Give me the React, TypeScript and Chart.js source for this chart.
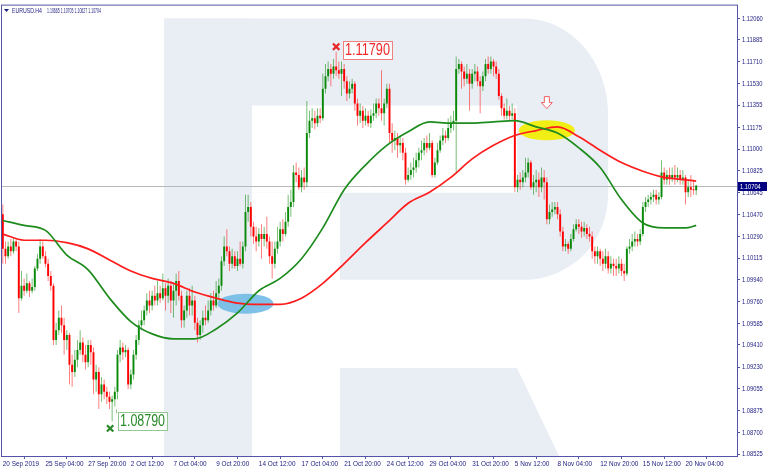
import React, { useEffect, useRef } from "react";
import { Chart, registerables } from "chart.js";

Chart.register(...registerables);

// ---------------- data ----------------
const symbolName = "EURUSD.H4";
const lastBarOhlc = ["1.10665", "1.10705", "1.10627", "1.10704"];

const timeLabels = [
  "20 Sep 2019", "25 Sep 04:00", "27 Sep 20:00", "2 Oct 12:00", "7 Oct 04:00", "9 Oct 20:00",
  "14 Oct 12:00", "17 Oct 04:00", "21 Oct 20:00", "24 Oct 12:00", "29 Oct 04:00", "31 Oct 20:00",
  "5 Nov 12:00", "8 Nov 04:00", "12 Nov 20:00", "15 Nov 12:00", "20 Nov 04:00",
];
const barsPerTimeLabel = 16;

const priceTickLabels = [
  "1.12060", "1.11885", "1.11710", "1.11530", "1.11355", "1.11175", "1.11000", "1.10825",
  "1.10645", "1.10470", "1.10290", "1.10115", "1.09940", "1.09760", "1.09585", "1.09410",
  "1.09230", "1.09055", "1.08875", "1.08700", "1.08525",
];

const openPrices = [
  1.1047,1.1019,1.1013,1.1021,1.1017,1.1025,1.1021,1.0979,1.0989,1.0985,
  1.0991,1.0985,1.0988,1.1003,1.1011,1.1021,1.1013,1.1007,1.0997,1.0989,
  1.0945,1.0953,1.0963,1.0957,1.0945,1.0949,1.0925,1.0919,1.0929,1.0937,
  1.0943,1.0933,1.0927,1.0941,1.0935,1.0913,1.0919,1.0901,1.0909,1.0903,
  1.0899,1.0895,1.0897,1.0903,1.0933,1.0939,1.0935,1.0937,1.0909,1.0917,
  1.0933,1.0945,1.0957,1.0961,1.0969,1.0977,1.0973,1.0981,1.0977,1.0983,
  1.0979,1.0987,1.0981,1.0989,1.0977,1.0985,1.0993,1.0981,1.0961,1.0969,
  1.0981,1.0973,1.0977,1.0959,1.0949,1.0957,1.0963,1.0961,1.0969,1.0977,
  1.0973,1.0983,1.0989,1.1009,1.1021,1.1017,1.1007,1.1013,1.1005,1.1011,
  1.1007,1.1021,1.1049,1.1053,1.1037,1.1029,1.1025,1.1031,1.1027,1.1031,
  1.1025,1.1013,1.1007,1.1019,1.1025,1.1035,1.1031,1.1041,1.1053,1.1057,
  1.1081,1.1079,1.1069,1.1077,1.1073,1.1113,1.1123,1.1125,1.1121,1.1127,
  1.1125,1.1149,1.1159,1.1165,1.1161,1.1167,1.1164,1.1161,1.1165,1.1155,
  1.1145,1.1149,1.1153,1.1137,1.1127,1.1131,1.1123,1.1127,1.1121,1.1127,
  1.1129,1.1137,1.1133,1.1129,1.1137,1.1149,1.1113,1.1107,1.1109,1.1103,
  1.1105,1.1097,1.1075,1.1079,1.1083,1.1085,1.1091,1.1097,1.1099,1.1105,
  1.1101,1.1105,1.1079,1.1089,1.1099,1.1107,1.1111,1.1109,1.1117,1.1121,
  1.1123,1.1165,1.1169,1.1163,1.1157,1.1161,1.1153,1.1161,1.1163,1.1155,
  1.1151,1.1159,1.1169,1.1165,1.1171,1.1167,1.1161,1.1143,1.1133,1.1127,
  1.1131,1.1127,1.1129,1.1069,1.1075,1.1073,1.1077,1.1081,1.1089,1.1069,
  1.1073,1.1075,1.1069,1.1077,1.1073,1.1043,1.1049,1.1051,1.1053,1.1047,
  1.1033,1.1021,1.1023,1.1019,1.1027,1.1035,1.1039,1.1037,1.1033,1.1036,
  1.1031,1.1029,1.1017,1.1013,1.1017,1.1011,1.1007,1.1013,1.1003,1.1007,
  1.1005,1.1003,1.1007,1.1001,1.0999,1.1019,1.1021,1.1025,1.1027,1.1025,
  1.1031,1.1053,1.1057,1.1059,1.1061,1.1063,1.1059,1.1061,1.1081,1.1075,
  1.1079,1.1076,1.1079,1.1077,1.1079,1.1075,1.1077,1.1065,1.1069,1.1067,
  1.10665,
];
const highPrices = [
  1.1055,1.1025,1.1025,1.1027,1.1028,1.1027,1.1025,1.1001,1.0995,1.0999,
  1.0993,1.0995,1.1005,1.1015,1.1027,1.1025,1.1017,1.1011,1.1001,1.0991,
  1.0959,1.0969,1.0973,1.0963,1.0953,1.0951,1.0933,1.0937,1.0945,1.0953,
  1.0947,1.0941,1.0945,1.0945,1.0939,1.0925,1.0923,1.0915,1.0913,1.0907,
  1.0903,1.0900,1.0907,1.0937,1.0945,1.0943,1.0941,1.0939,1.0921,1.0937,
  1.0949,1.0961,1.0969,1.0973,1.0983,1.0985,1.0985,1.0989,1.0993,1.0989,
  1.0999,1.0991,1.0995,1.0993,1.0991,1.0999,1.1001,1.0985,1.0973,1.0985,
  1.0987,1.0989,1.0981,1.0963,1.0961,1.0969,1.0973,1.0977,1.0983,1.0985,
  1.0993,1.0995,1.1013,1.1029,1.1035,1.1021,1.1019,1.1017,1.1017,1.1025,
  1.1025,1.1063,1.1063,1.1057,1.1041,1.1037,1.1036,1.1039,1.1037,1.1045,
  1.1029,1.1025,1.1025,1.1037,1.1041,1.1043,1.1049,1.1063,1.1067,1.1087,
  1.1089,1.1085,1.1083,1.1085,1.1139,1.1131,1.1133,1.1131,1.1133,1.1133,
  1.1161,1.1169,1.1171,1.1169,1.1173,1.1179,1.1171,1.1171,1.1169,1.1159,
  1.1155,1.1157,1.1155,1.1141,1.1137,1.1135,1.1133,1.1131,1.1132,1.1137,
  1.1141,1.1141,1.1164,1.1141,1.1153,1.1153,1.1121,1.1115,1.1113,1.1111,
  1.1109,1.1101,1.1085,1.1089,1.1093,1.1097,1.1101,1.1107,1.1109,1.1111,
  1.1113,1.1107,1.1093,1.1105,1.1111,1.1117,1.1115,1.1125,1.1127,1.1131,
  1.1175,1.1173,1.1171,1.1167,1.1169,1.1165,1.1165,1.1169,1.1167,1.1159,
  1.1163,1.1173,1.1175,1.1175,1.1173,1.1171,1.1165,1.1145,1.1137,1.1141,
  1.1135,1.1137,1.1133,1.1079,1.1081,1.1083,1.1093,1.1093,1.1091,1.1079,
  1.1083,1.1081,1.1085,1.1083,1.1077,1.1055,1.1057,1.1057,1.1057,1.1051,
  1.1037,1.1027,1.1025,1.1031,1.1039,1.1043,1.1043,1.1041,1.1041,1.1039,
  1.1037,1.1033,1.1021,1.1021,1.1019,1.1017,1.1019,1.1017,1.1013,1.1011,
  1.1011,1.1013,1.1011,1.1007,1.1021,1.1027,1.1031,1.1033,1.1031,1.1035,
  1.1057,1.1061,1.1063,1.1065,1.1067,1.1067,1.1065,1.1091,1.1085,1.1083,
  1.1085,1.1085,1.1087,1.1085,1.1083,1.1083,1.1079,1.1075,1.1079,1.1075,
  1.10705,
];
const lowPrices = [
  1.1007,1.1007,1.1011,1.1013,1.1015,1.1017,1.0967,1.0977,1.0981,1.0983,
  1.0980,1.0983,1.0985,1.1001,1.1007,1.1011,1.1004,1.0993,1.0985,1.0941,
  1.0941,1.0949,1.0951,1.0933,1.0937,1.0909,1.0907,1.0915,1.0923,1.0933,
  1.0927,1.0921,1.0923,1.0925,1.0901,1.0903,1.0889,1.0895,1.0897,1.0893,
  1.0889,1.0879,1.0891,1.0897,1.0927,1.0929,1.0931,1.0905,1.0905,1.0913,
  1.0929,1.0941,1.0953,1.0957,1.0965,1.0967,1.0969,1.0973,1.0973,1.0975,
  1.0977,1.0969,1.0975,1.0967,1.0963,1.0973,1.0977,1.0955,1.0955,1.0963,
  1.0965,1.0965,1.0953,1.0943,1.0945,1.0951,1.0957,1.0959,1.0965,1.0969,
  1.0971,1.0977,1.0985,1.1005,1.1013,1.1001,1.1003,1.1003,1.1001,1.1005,
  1.1003,1.1017,1.1041,1.1029,1.1023,1.1017,1.1021,1.1011,1.1021,1.1019,
  1.1007,1.0995,1.1003,1.1015,1.1021,1.1025,1.1029,1.1037,1.1045,1.1053,
  1.1073,1.1067,1.1065,1.1067,1.1069,1.1109,1.1117,1.1116,1.1118,1.1121,
  1.1123,1.1145,1.1155,1.1151,1.1157,1.1159,1.1157,1.1143,1.1149,1.1139,
  1.1141,1.1145,1.1131,1.1119,1.1121,1.1117,1.1119,1.1118,1.1117,1.1123,
  1.1125,1.1127,1.1123,1.1119,1.1133,1.1105,1.1097,1.1099,1.1093,1.1097,
  1.1091,1.1071,1.1073,1.1075,1.1077,1.1081,1.1085,1.1091,1.1095,1.1097,
  1.1099,1.1077,1.1077,1.1087,1.1097,1.1103,1.1105,1.1107,1.1113,1.1115,
  1.1081,1.1161,1.1149,1.1151,1.1153,1.1131,1.1149,1.1155,1.1151,1.1129,
  1.1147,1.1155,1.1161,1.1161,1.1159,1.1157,1.1140,1.1127,1.1124,1.1124,
  1.1123,1.1124,1.1065,1.1065,1.1067,1.1069,1.1073,1.1077,1.1067,1.1063,
  1.1065,1.1061,1.1065,1.1059,1.1039,1.1039,1.1045,1.1047,1.1043,1.1029,
  1.1017,1.1017,1.1015,1.1017,1.1025,1.1033,1.1031,1.1028,1.1029,1.1027,
  1.1025,1.1011,1.1007,1.1007,1.1005,1.1001,1.1003,1.0999,1.0999,1.0997,
  1.0997,1.0999,1.0997,1.0993,1.0997,1.1015,1.1017,1.1021,1.1021,1.1022,
  1.1029,1.1049,1.1053,1.1055,1.1057,1.1055,1.1055,1.1059,1.1071,1.1071,
  1.1071,1.1073,1.1071,1.1073,1.1071,1.1071,1.1055,1.1061,1.1061,1.1063,
  1.10627,
];
const closePrices = [
  1.1019,1.1013,1.1021,1.1017,1.1025,1.1021,1.0979,1.0989,1.0985,1.0991,
  1.0985,1.0988,1.1003,1.1011,1.1021,1.1013,1.1007,1.0997,1.0989,1.0945,
  1.0953,1.0963,1.0957,1.0945,1.0949,1.0925,1.0919,1.0929,1.0937,1.0943,
  1.0933,1.0927,1.0941,1.0935,1.0913,1.0919,1.0901,1.0909,1.0903,1.0899,
  1.0895,1.0897,1.0903,1.0933,1.0939,1.0935,1.0937,1.0909,1.0917,1.0933,
  1.0945,1.0957,1.0961,1.0969,1.0977,1.0973,1.0981,1.0977,1.0983,1.0979,
  1.0987,1.0981,1.0989,1.0977,1.0985,1.0993,1.0981,1.0961,1.0969,1.0981,
  1.0973,1.0977,1.0959,1.0949,1.0957,1.0963,1.0961,1.0969,1.0977,1.0973,
  1.0983,1.0989,1.1009,1.1021,1.1017,1.1007,1.1013,1.1005,1.1011,1.1007,
  1.1021,1.1049,1.1053,1.1037,1.1029,1.1025,1.1031,1.1027,1.1031,1.1025,
  1.1013,1.1007,1.1019,1.1025,1.1035,1.1031,1.1041,1.1053,1.1057,1.1081,
  1.1079,1.1069,1.1077,1.1073,1.1113,1.1123,1.1125,1.1121,1.1127,1.1125,
  1.1149,1.1159,1.1165,1.1161,1.1167,1.1164,1.1161,1.1165,1.1155,1.1145,
  1.1149,1.1153,1.1137,1.1127,1.1131,1.1123,1.1127,1.1121,1.1127,1.1129,
  1.1137,1.1133,1.1129,1.1137,1.1149,1.1113,1.1107,1.1109,1.1103,1.1105,
  1.1097,1.1075,1.1079,1.1083,1.1085,1.1091,1.1097,1.1099,1.1105,1.1101,
  1.1105,1.1079,1.1089,1.1099,1.1107,1.1111,1.1109,1.1117,1.1121,1.1123,
  1.1165,1.1169,1.1163,1.1157,1.1161,1.1153,1.1161,1.1163,1.1155,1.1151,
  1.1159,1.1169,1.1165,1.1171,1.1167,1.1161,1.1143,1.1133,1.1127,1.1131,
  1.1127,1.1129,1.1069,1.1075,1.1073,1.1077,1.1081,1.1089,1.1069,1.1073,
  1.1075,1.1069,1.1077,1.1073,1.1043,1.1049,1.1051,1.1053,1.1047,1.1033,
  1.1021,1.1023,1.1019,1.1027,1.1035,1.1039,1.1037,1.1033,1.1036,1.1031,
  1.1029,1.1017,1.1013,1.1017,1.1011,1.1007,1.1013,1.1003,1.1007,1.1005,
  1.1003,1.1007,1.1001,1.0999,1.1019,1.1021,1.1025,1.1027,1.1025,1.1031,
  1.1053,1.1057,1.1059,1.1061,1.1063,1.1059,1.1061,1.1081,1.1075,1.1079,
  1.1076,1.1079,1.1077,1.1079,1.1075,1.1077,1.1065,1.1069,1.1067,1.10665,
  1.10704,
];

// moving averages, read at every 8th bar
const maIndex = [0,8,16,24,32,40,48,56,64,72,80,88,96,104,112,120,128,136,144,152,160,168,176,184,192,200,208,216,224,232,240,248,256,260];
const maFast = [
  1.1042,1.1038,1.1034,1.1014,1.1002,1.0979,1.0960,1.0950,1.0946,1.0946,
  1.0954,1.0967,1.0985,1.0995,1.1011,1.1036,1.1067,1.1087,1.1103,1.1114,
  1.1122,1.1121,1.1121,1.1122,1.1123,1.1118,1.1113,1.1101,1.1085,1.1059,
  1.1040,1.1036,1.1036,1.1038,
];
const maSlow = [
  1.1031,1.1026,1.1026,1.1024,1.1019,1.1010,1.1001,1.0995,1.0991,1.0984,
  1.0979,1.0975,1.0974,1.0974,1.0979,1.0991,1.1007,1.1024,1.1040,1.1056,
  1.1065,1.1077,1.1092,1.1103,1.1111,1.1115,1.1118,1.1110,1.1099,1.1089,
  1.1082,1.1077,1.1075,1.1074,
];

// highlighted MA crossings (bar index, price) and the signal arrow
const crossBarIndex = [91, 204];
const crossPrice = [1.09745, 1.11152];
const arrowBarIndex = 204;
const arrowPrice = 1.11377;

// ---------------- styling ----------------
const NAVY = "#1c1c80";
const AXIS = "#5454a8";
const BULL = "#0a8a0a";
const BEAR = "#ff0000";
const BULL_WICK = "rgba(10,138,10,0.55)";
const BEAR_WICK = "rgba(255,0,0,0.5)";
const FONT = '"Liberation Sans", Arial, sans-serif';
const WATERMARK = "#e9edf4";

// draws condensed text (the reference uses a narrow screen font)
function narrowText(ctx: any, text: string, x: number, y: number, size: number, sx: number, align = "left") {
  ctx.save();
  ctx.translate(x, y);
  ctx.scale(sx, 1);
  ctx.font = `${size}px ${FONT}`;
  ctx.textAlign = align;
  ctx.textBaseline = "middle";
  ctx.fillText(text, 0, 0);
  ctx.restore();
}
function fitText(ctx: any, text: string, x: number, y: number, size: number, width: number) {
  ctx.save();
  ctx.font = `${size}px ${FONT}`;
  const w = ctx.measureText(text).width;
  ctx.restore();
  narrowText(ctx, text, x, y, size, width / w);
}

const decorPlugin = {
  id: "decor",
  beforeDatasetsDraw(chart: any) {
    const { ctx, chartArea: a, scales } = chart;
    const X = (p: number) => a.left + ((p - 2) / 735) * a.width;
    const Y = (p: number) => a.top + ((p - 1) / 455) * a.height;
    ctx.save();
    ctx.beginPath();
    ctx.rect(a.left, a.top, a.width, a.height);
    ctx.clip();
    // watermark "R"
    ctx.fillStyle = WATERMARK;
    ctx.fillRect(X(164), Y(14), X(252) - X(164), a.bottom - Y(14));
    ctx.beginPath();
    ctx.moveTo(X(164), Y(14));
    ctx.lineTo(X(524), Y(14));
    ctx.ellipse(X(524), Y(110), X(608) - X(524), Y(110) - Y(14), 0, -Math.PI / 2, 0);
    ctx.lineTo(X(608), Y(193));
    ctx.ellipse(X(524), Y(193), X(608) - X(524), Y(278) - Y(193), 0, 0, Math.PI / 2);
    ctx.lineTo(X(164), Y(278));
    ctx.closePath();
    ctx.fill();
    ctx.fillStyle = "#ffffff";
    ctx.fillRect(X(252), Y(102), X(517) - X(252), Y(190) - Y(102));
    ctx.fillRect(X(252), Y(190), X(340) - X(252), Y(278) - Y(190) + 1);
    ctx.fillStyle = WATERMARK;
    ctx.beginPath();
    ctx.moveTo(X(340), Y(367));
    ctx.lineTo(X(517), Y(367));
    ctx.lineTo(X(559), a.bottom);
    ctx.lineTo(X(340), a.bottom);
    ctx.closePath();
    ctx.fill();
    // current price line
    const py = Math.round(scales.y.getPixelForValue(closePrices[closePrices.length - 1])) + 0.5;
    ctx.strokeStyle = "#b8b8b8";
    ctx.lineWidth = 1;
    ctx.beginPath();
    ctx.moveTo(a.left, py);
    ctx.lineTo(a.right, py);
    ctx.stroke();
    ctx.restore();
  },
  beforeDatasetDraw(chart: any, args: any) {
    if (args.index !== 0) return;
    const { ctx, scales } = chart;
    const fills = ["rgba(104,182,228,0.85)", "rgba(240,238,0,0.92)"];
    ctx.save();
    crossBarIndex.forEach((bi, k) => {
      const cx = scales.x.getPixelForValue(bi);
      const cy = scales.y.getPixelForValue(crossPrice[k]);
      ctx.fillStyle = fills[k];
      ctx.beginPath();
      ctx.ellipse(cx, cy, 28, 10, 0, 0, Math.PI * 2);
      ctx.fill();
    });
    ctx.restore();
  },
  afterDraw(chart: any) {
    const { ctx, chartArea: a, scales } = chart;
    const xs = scales.x;
    const ys = scales.y;
    ctx.save();
    // frame
    ctx.strokeStyle = AXIS;
    ctx.lineWidth = 1;
    ctx.strokeRect(a.left - 0.5, a.top - 0.5, a.width + 1, a.height + 1);

    // axis labels
    ctx.fillStyle = NAVY;
    ys.ticks.forEach((t: any, i: number) => {
      narrowText(ctx, priceTickLabels[i], a.right + 5, ys.getPixelForValue(t.value), 8, 0.72);
    });
    xs.ticks.forEach((t: any, i: number) => {
      narrowText(ctx, timeLabels[i], xs.getPixelForValue(t.value), a.bottom + 7.5, 8, 0.8);
    });

    // header
    ctx.fillStyle = NAVY;
    ctx.beginPath();
    ctx.moveTo(a.left + 2, a.top + 3.5);
    ctx.lineTo(a.left + 7, a.top + 3.5);
    ctx.lineTo(a.left + 4.5, a.top + 6.5);
    ctx.closePath();
    ctx.fill();
    fitText(ctx, symbolName, a.left + 10, a.top + 5.5, 7, 30);
    fitText(ctx, lastBarOhlc.join(" "), a.left + 45, a.top + 5.5, 7, 54);

    // current price tag on the axis
    const last = closePrices[closePrices.length - 1];
    const py = Math.round(ys.getPixelForValue(last));
    ctx.fillStyle = "#000080";
    ctx.fillRect(a.right + 1, py - 4, 29, 9);
    ctx.fillStyle = "#ffffff";
    narrowText(ctx, last.toFixed(5), a.right + 3, py + 0.5, 8, 0.72);

    // extreme markers
    let hi = 0;
    let lo = 0;
    highPrices.forEach((v, i) => { if (v > highPrices[hi]) hi = i; });
    lowPrices.forEach((v, i) => { if (v < lowPrices[lo]) lo = i; });
    const cross = (cx: number, cy: number, color: string) => {
      ctx.strokeStyle = color;
      ctx.lineWidth = 2.2;
      ctx.beginPath();
      ctx.moveTo(cx - 3.2, cy - 3.2);
      ctx.lineTo(cx + 3.2, cy + 3.2);
      ctx.moveTo(cx + 3.2, cy - 3.2);
      ctx.lineTo(cx - 3.2, cy + 3.2);
      ctx.stroke();
    };
    const box = (left: number, top: number, text: string, color: string, border: string) => {
      ctx.fillStyle = "rgba(255,255,255,0.85)";
      ctx.fillRect(left, top, 49, 18);
      ctx.strokeStyle = border;
      ctx.lineWidth = 1;
      ctx.strokeRect(left + 0.5, top + 0.5, 49, 18);
      ctx.fillStyle = color;
      fitText(ctx, text, left + 2, top + 10, 16, 45);
    };
    const hx = xs.getPixelForValue(hi);
    const hy = ys.getPixelForValue(highPrices[hi]);
    cross(hx, hy - 5, "#e82828");
    box(Math.round(hx + 7), Math.round(hy - 11), highPrices[hi].toFixed(5), "#f02828", "#f08080");
    const lx = xs.getPixelForValue(lo);
    const ly = ys.getPixelForValue(lowPrices[lo]);
    ctx.strokeStyle = "#90c890";
    ctx.lineWidth = 1;
    ctx.beginPath();
    ctx.moveTo(Math.round(lx + 4) + 0.5, ly - 12);
    ctx.lineTo(Math.round(lx + 4) + 0.5, ly - 8);
    ctx.stroke();
    cross(lx - 2, ly + 7, "#2a8a2a");
    box(Math.round(lx + 6), Math.round(ly - 9), lowPrices[lo].toFixed(5), "#2a8a2a", "#90c890");

    // signal arrow
    const ax = xs.getPixelForValue(arrowBarIndex);
    const ay = ys.getPixelForValue(arrowPrice);
    ctx.fillStyle = "#ffffff";
    ctx.strokeStyle = "#f06060";
    ctx.lineWidth = 1;
    ctx.beginPath();
    ctx.moveTo(ax - 2.5, ay - 6);
    ctx.lineTo(ax + 2.5, ay - 6);
    ctx.lineTo(ax + 2.5, ay);
    ctx.lineTo(ax + 5.5, ay);
    ctx.lineTo(ax, ay + 6);
    ctx.lineTo(ax - 5.5, ay);
    ctx.lineTo(ax - 2.5, ay);
    ctx.closePath();
    ctx.fill();
    ctx.stroke();
    ctx.restore();
  },
};

export default function App() {
  const ref = useRef<HTMLCanvasElement | null>(null);

  useEffect(() => {
    const canvas = ref.current;
    if (!canvas) return;
    const idx = closePrices.map((_, i) => i);
    const up = idx.map((i) => closePrices[i] >= openPrices[i]);

    const chart = new Chart(canvas, {
      type: "bar",
      data: {
        datasets: [
          {
            type: "line",
            label: "MA slow",
            data: maIndex.map((x, k) => ({ x, y: maSlow[k] })),
            borderColor: "#ff1c1c",
            borderWidth: 1.7,
            pointRadius: 0,
            cubicInterpolationMode: "monotone",
            order: 1,
          },
          {
            type: "line",
            label: "MA fast",
            data: maIndex.map((x, k) => ({ x, y: maFast[k] })),
            borderColor: "#1d8c1d",
            borderWidth: 1.7,
            pointRadius: 0,
            cubicInterpolationMode: "monotone",
            order: 0,
          },
          {
            type: "bar",
            label: "wicks",
            data: idx.map((i) => ({ x: i, y: [lowPrices[i], highPrices[i]] })),
            backgroundColor: up.map((u) => (u ? BULL_WICK : BEAR_WICK)),
            grouped: false,
            maxBarThickness: 1,
            order: 3,
          },
          {
            type: "bar",
            label: "bodies",
            data: idx.map((i) => ({ x: i, y: [openPrices[i], closePrices[i]] })),
            backgroundColor: up.map((u) => (u ? BULL : BEAR)),
            grouped: false,
            maxBarThickness: 2,
            minBarLength: 1,
            order: 2,
          },
        ] as any,
      },
      options: {
        responsive: false,
        devicePixelRatio: 1,
        animation: false,
        events: [],
        layout: { padding: { left: 2, top: 1, right: 0, bottom: 0 } },
        plugins: { legend: { display: false }, tooltip: { enabled: false }, title: { display: false } },
        scales: {
          x: {
            type: "linear",
            min: -0.3,
            max: 275.3,
            offset: false,
            afterBuildTicks: (s: any) => {
              s.ticks = timeLabels.map((_, k) => ({ value: k * barsPerTimeLabel }));
            },
            afterFit: (s: any) => {
              s.height = 14;
            },
            ticks: {
              autoSkip: false,
              maxRotation: 0,
              minRotation: 0,
              align: "start",
              padding: 1,
              color: "rgba(0,0,0,0)",
              font: { family: FONT, size: 6.5 },
              callback: (_v: any, i: number) => timeLabels[i] ?? "",
            },
            grid: { drawOnChartArea: false, drawTicks: true, tickLength: 3, color: AXIS },
            border: { display: false },
          },
          y: {
            position: "right",
            min: 1.08509,
            max: 1.12164,
            afterBuildTicks: (s: any) => {
              s.ticks = priceTickLabels.map((t) => ({ value: parseFloat(t) }));
            },
            afterFit: (s: any) => {
              s.width = 31;
            },
            ticks: {
              autoSkip: false,
              padding: 2,
              color: "rgba(0,0,0,0)",
              font: { family: FONT, size: 6 },
              callback: (_v: any, i: number) => priceTickLabels[i] ?? "",
            },
            grid: { drawOnChartArea: false, drawTicks: true, tickLength: 3, color: AXIS },
            border: { display: false },
          },
        },
      } as any,
      plugins: [decorPlugin],
    });
    return () => chart.destroy();
  }, []);

  return (
    <div style={{ position: "fixed", left: 0, top: 0, width: 768, height: 470, background: "#ffffff" }}>
      <canvas ref={ref} width={768} height={470} style={{ display: "block", width: 768, height: 470 }} />
    </div>
  );
}
